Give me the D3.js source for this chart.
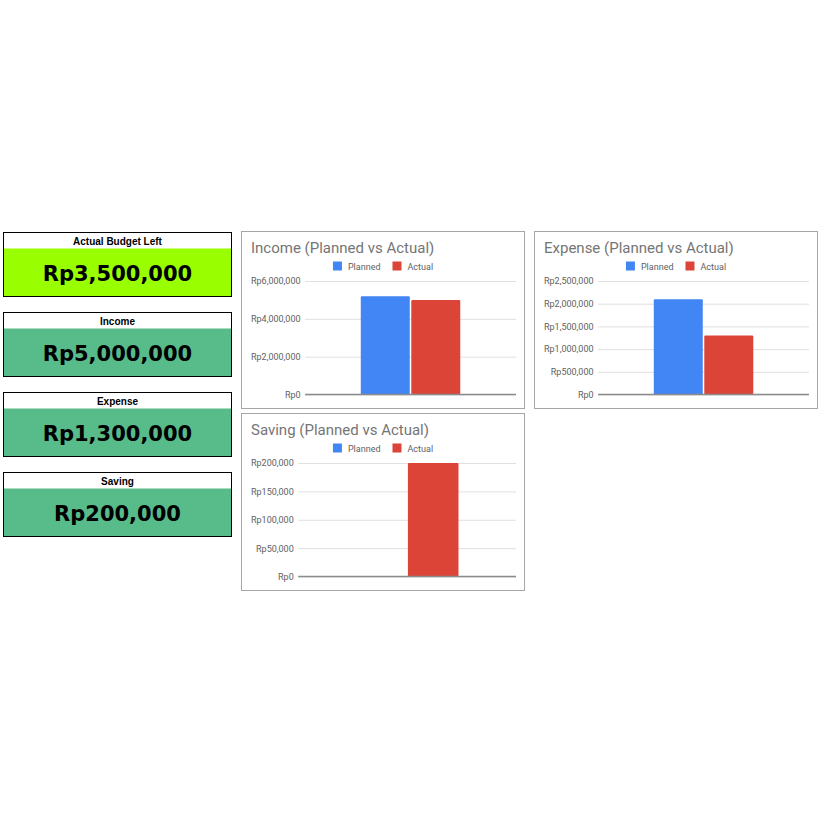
<!doctype html>
<html>
<head>
<meta charset="utf-8">
<title>Budget Dashboard</title>
<style>
  body { margin:0; background:#fff; }
  svg { display:block; }
  .card-head { font-family:"Liberation Sans", Arial, sans-serif; font-weight:bold; font-size:10px; }
  .card-value { font-family:"DejaVu Sans", sans-serif; font-weight:bold; font-size:21px; }
  .chart-title { font-family:Roboto, sans-serif; font-size:15px; fill:#757575; }
  .legend text { font-family:Roboto, sans-serif; font-size:9px; fill:#616161; }
  .axis text { font-family:Roboto, sans-serif; font-size:9px; fill:#616161; }
  .axis .domain { display:none; }
  .axis line { stroke:#e0e0e0; }
</style>
<script src="https://cdn.jsdelivr.net/npm/d3@7"></script>
</head>
<body>
<svg id="dash" width="827" height="827"></svg>
<script>

// data

  var cardTitles = ["Actual Budget Left", "Income", "Expense", "Saving"]
  var cardValues = [3500000, 5000000, 1300000, 200000]

  var series = ["Planned", "Actual"]
  var categories = [""]

  var incomeValues = [5200000, 5000000]
  var expenseValues = [2100000, 1300000]
  var savingValues = [0, 200000]

  var incomeTicks = [0, 2000000, 4000000, 6000000]
  var expenseTicks = [0, 500000, 1000000, 1500000, 2000000, 2500000]
  var savingTicks = [0, 50000, 100000, 150000, 200000]

  var rp = function(v){ return "Rp" + d3.format(",")(v) }
  var colors = d3.scaleOrdinal().domain(series).range(["#4285f4", "#db4437"])

  var svg = d3.select("#dash")

// cards on the left

  var cardY = d3.scaleBand().domain(cardTitles).range([232, 536]).paddingInner(0.2).paddingOuter(0)
  var cardFill = ["#99ff00", "#57bb8a", "#57bb8a", "#57bb8a"]

  var card = svg.selectAll("g.card")
    .data(cardTitles)
    .enter()
    .append("g")
    .attr("class", "card")
    .attr("transform", function(d){ return "translate(3.5," + (cardY(d) + 0.5) + ")" })

  card.append("rect")
    .attr("width", 228).attr("height", 16)
    .attr("fill", "#fff")
  card.append("rect")
    .attr("y", 16).attr("width", 228).attr("height", 48)
    .attr("fill", function(d,i){ return cardFill[i] })
  card.append("rect")
    .attr("width", 228).attr("height", 64)
    .attr("fill", "none").attr("stroke", "#000")

  card.append("text")
    .attr("class", "card-head")
    .attr("x", 114).attr("y", 12)
    .attr("text-anchor", "middle")
    .text(function(d){ return d })

  card.append("text")
    .attr("class", "card-value")
    .attr("x", 114).attr("y", 48.5)
    .attr("text-anchor", "middle")
    .text(function(d,i){ return rp(cardValues[i]) })

// one column chart in a box

  function drawChart(bx, by, bw, bh, title, values, ticks) {
    var g = svg.append("g").attr("transform", "translate(" + bx + "," + by + ")")

    g.append("rect")
      .attr("x", 0.5).attr("y", 0.5)
      .attr("width", bw).attr("height", bh)
      .attr("fill", "#fff").attr("stroke", "#a6a6a6")

    g.append("text")
      .attr("class", "chart-title")
      .attr("x", 10).attr("y", 22)
      .text(title)

    // legend, centred in the box
    var leg = g.append("g").attr("class", "legend")
    var lx = 0
    series.forEach(function(s, i) {
      leg.append("rect")
        .attr("x", lx).attr("y", 30.5)
        .attr("width", 9).attr("height", 9)
        .attr("fill", colors(s))
      var t = leg.append("text")
        .attr("x", lx + 15).attr("y", 38.5)
        .text(s)
      lx += 15 + t.node().getComputedTextLength() + 12
    })
    var lw = lx - 12
    leg.attr("transform", "translate(" + (bw / 2 - lw / 2 + 0.5) + ",0)")

    // measure the tick labels to place the plot
    var probe = g.append("g").attr("class", "axis")
    var maxW = 0
    ticks.forEach(function(t) {
      var tx = probe.append("text").text(rp(t))
      maxW = Math.max(maxW, tx.node().getComputedTextLength())
    })
    probe.remove()

    var left = 10 + maxW + 4.5
    var right = bw - 8
    var top = 50, bottom = 163.5

    var y = d3.scaleLinear().domain([0, d3.max(ticks)]).range([bottom, top])

    g.append("g")
      .attr("class", "axis")
      .attr("transform", "translate(" + left + ",0)")
      .call(d3.axisLeft(y).tickValues(ticks).tickFormat(rp)
              .tickSize(-(right - left)).tickPadding(4.5))

    var x0 = d3.scaleBand().domain(categories).range([left, right]).paddingOuter(0.56)
    var x1 = d3.scaleBand().domain(series).range([0, x0.bandwidth()]).paddingInner(0.03)

    g.selectAll("rect.bar")
      .data(values)
      .enter()
      .append("rect")
      .attr("class", "bar")
      .attr("x", function(d,i){ return x0(categories[0]) + x1(series[i]) })
      .attr("y", function(d){ return y(d) })
      .attr("width", x1.bandwidth())
      .attr("height", function(d){ return y(0) - y(d) })
      .attr("rx", 1)
      .attr("fill", function(d,i){ return colors(series[i]) })

    g.append("line")
      .attr("x1", left).attr("x2", right)
      .attr("y1", y(0)).attr("y2", y(0))
      .attr("stroke", "#8a8a8a").attr("stroke-width", 1.3)
  }

  drawChart(241, 231, 283, 177, "Income (Planned vs Actual)", incomeValues, incomeTicks)
  drawChart(534, 231, 283, 177, "Expense (Planned vs Actual)", expenseValues, expenseTicks)
  drawChart(241, 413, 283, 177, "Saving (Planned vs Actual)", savingValues, savingTicks)

</script>
</body>
</html>
